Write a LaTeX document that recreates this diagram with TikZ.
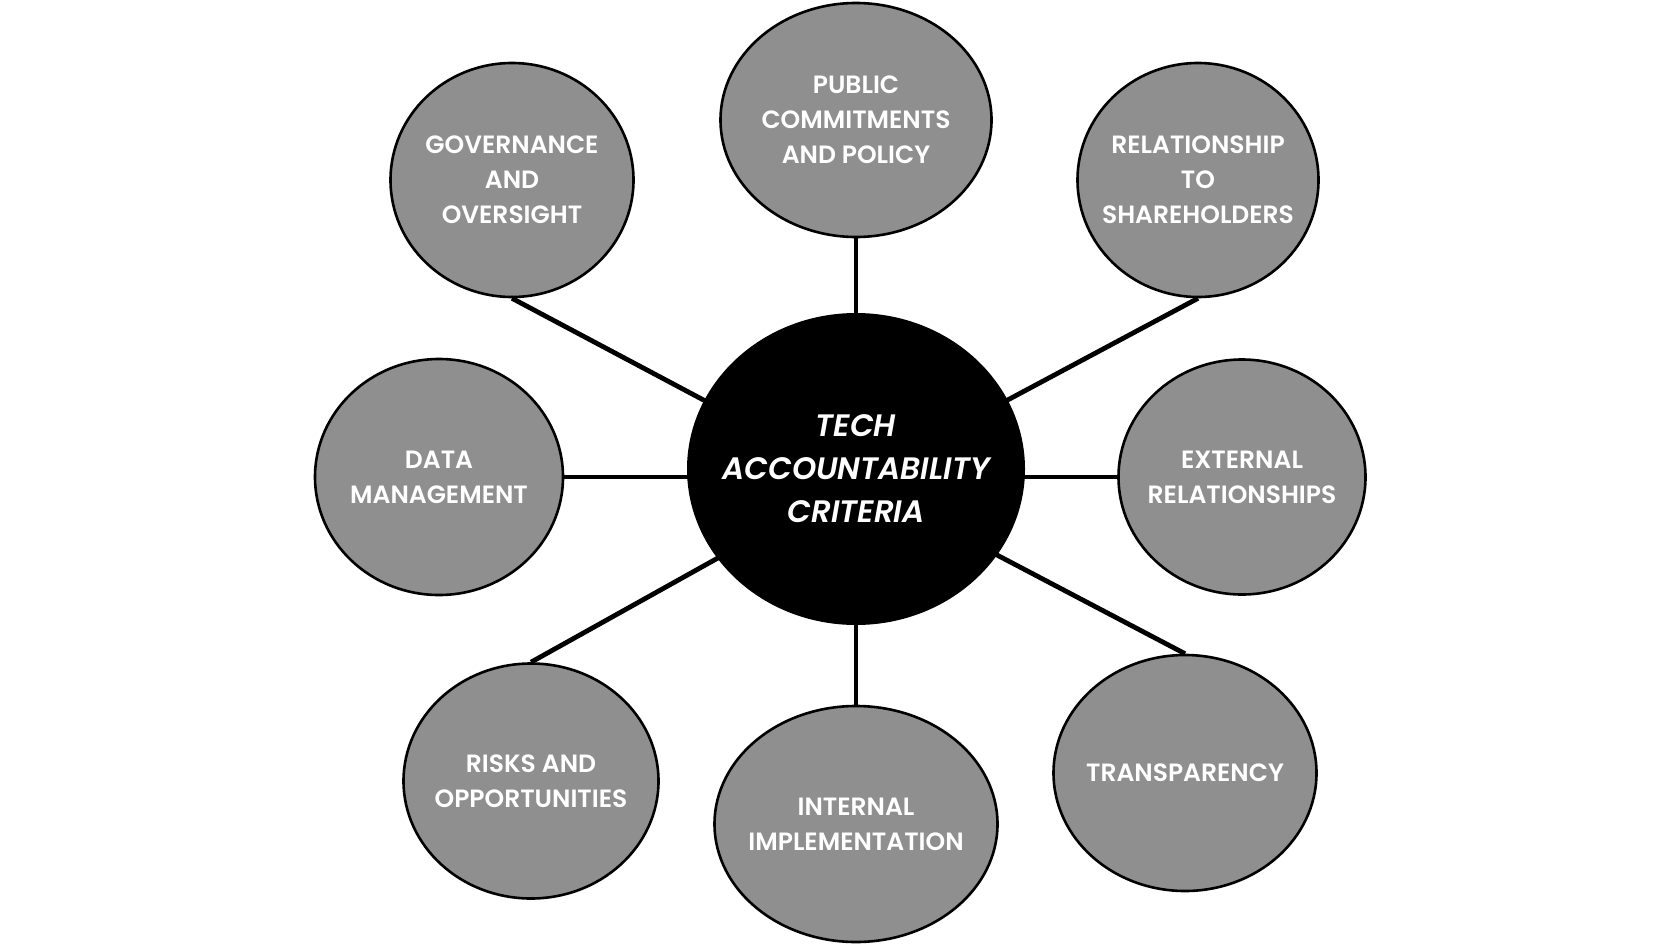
\documentclass[tikz,border=0pt]{standalone}
\usepackage{fontspec}
\setmainfont{Poppins}
\newfontfamily\popsb{Poppins SemiBold}
\newfontfamily\popsbi{Poppins SemiBold Italic}
\usetikzlibrary{shapes.geometric,backgrounds}
\definecolor{bubble}{RGB}{143,143,143}
\begin{document}
\begin{tikzpicture}[x=1pt,y=-1pt,
  outer/.style={ellipse,draw=black,line width=2.6pt,fill=bubble,inner sep=0pt},
  outertxt/.style={text=white,align=center,inner sep=0pt,font=\popsb\fontsize{25}{35}\selectfont},
  hubnode/.style={ellipse,fill=black,inner sep=0pt,minimum width=338pt,minimum height=312pt},
  hubtxt/.style={text=white,align=center,inner sep=0pt,font=\popsbi\fontsize{31}{43}\selectfont},
  spoke/.style={line width=4.8pt,draw=black}]
\useasboundingbox (0,0) rectangle (1680,945);
\node[hubnode] (c) at (856,469) {};
\node[hubtxt] (ct) at (c.center) {TECH\\ACCOUNTABILITY\\CRITERIA};
\node[outer,minimum width=243pt,minimum height=234pt] (gov) at (512,180) {};
\node[outer,minimum width=271pt,minimum height=234pt] (pub) at (856,120) {};
\node[outer,minimum width=241pt,minimum height=234pt] (sha) at (1198,180) {};
\node[outer,minimum width=248pt,minimum height=236pt] (dat) at (439,477) {};
\node[outer,minimum width=247pt,minimum height=235pt] (ext) at (1242,477) {};
\node[outer,minimum width=255pt,minimum height=235pt] (ris) at (531,781) {};
\node[outer,minimum width=283pt,minimum height=236pt] (int) at (856,824) {};
\node[outer,minimum width=263pt,minimum height=236pt] (tra) at (1185,773) {};
\node[outertxt] (govt) at (gov.center) {GOVERNANCE\\AND\\OVERSIGHT};
\node[outertxt] (pubt) at (pub.center) {PUBLIC\\COMMITMENTS\\AND POLICY};
\node[outertxt] (shat) at (sha.center) {RELATIONSHIP\\TO\\SHAREHOLDERS};
\node[outertxt] (datt) at (dat.center) {DATA\\MANAGEMENT};
\node[outertxt] (extt) at (ext.center) {EXTERNAL\\RELATIONSHIPS};
\node[outertxt] (rist) at (ris.center) {RISKS AND\\OPPORTUNITIES};
\node[outertxt] (intt) at (int.center) {INTERNAL\\IMPLEMENTATION};
\node[outertxt] (trat) at (tra.center) {TRANSPARENCY};
\coordinate (hub) at (856,481);
\begin{scope}[on background layer]
\fill[white] (0,0) rectangle (1680,945);
\draw[spoke] (gov.south) -- (hub);
\draw[spoke] (sha.south) -- (hub);
\draw[spoke] (ris.north) -- (hub);
\draw[spoke] (tra.north) -- (hub);
\draw[spoke] (pub.south) -- (c.center);
\draw[spoke] (int.north) -- (c.center);
\draw[spoke] (dat.east) -- (dat.east -| c.center);
\draw[spoke] (ext.west) -- (ext.west -| c.center);
\end{scope}
\end{tikzpicture}
\end{document}
